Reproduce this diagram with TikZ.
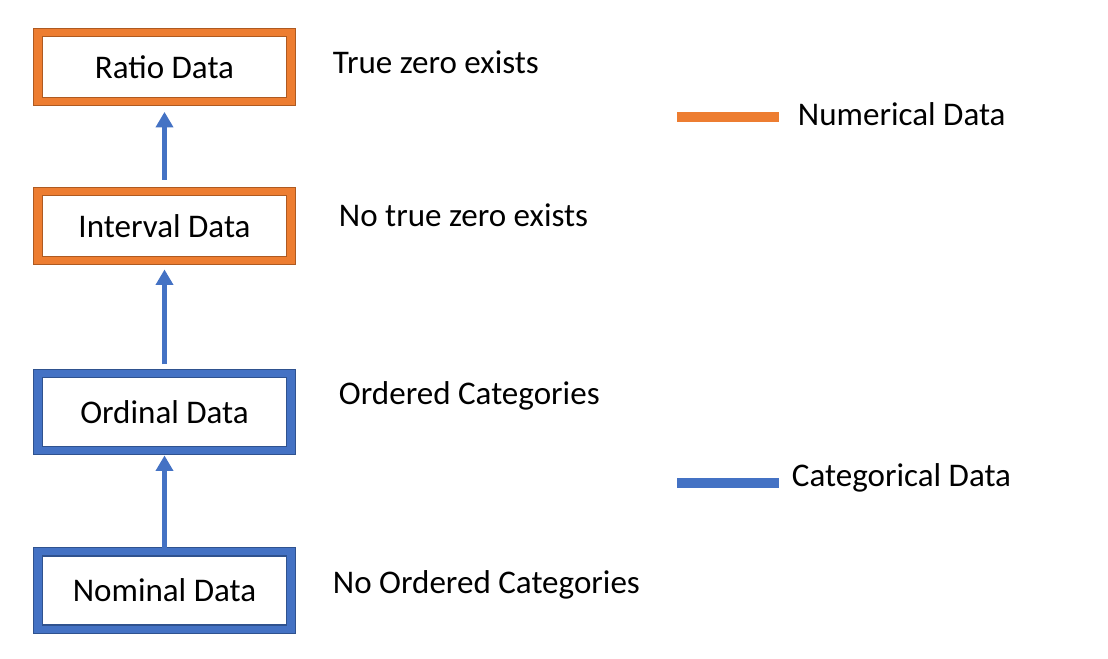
\documentclass[tikz,border=0pt]{standalone}
\usepackage{fontspec}
\setmainfont{Carlito}
\usetikzlibrary{arrows.meta,positioning}
\definecolor{numorange}{HTML}{ED7D31}
\definecolor{numedge}{HTML}{AE5A21}
\definecolor{catblue}{HTML}{4472C4}
\definecolor{catedge}{HTML}{2F528F}
\tikzset{
  numbox/.style={draw=numedge, line width=0.8pt, double=numorange, double distance=5.2pt, fill=white,
    minimum width=180pt, minimum height=49pt, font=\fontsize{23.5}{27}\selectfont},
  catbox/.style={numbox, draw=catedge, double=catblue, minimum height=55pt},
  note/.style={anchor=west, font=\fontsize{23.5}{27}\selectfont},
  uparrow/.style={catblue, line width=3.6pt, -{Triangle[length=11pt,width=12pt]}},
}
\begin{document}
\begin{tikzpicture}[x=0.025cm, y=-0.025cm]
\useasboundingbox (0,0) rectangle (1108,658);
\node[numbox] (ratio) at (164.5,67) {Ratio Data};
\node[numbox] (interval) at (164.5,226) {Interval Data};
\node[catbox] (ordinal) at (164.5,412) {Ordinal Data};
\node[catbox] (nominal) at (164.5,590.5) {Nominal Data};
\draw[uparrow, shorten <=8pt, shorten >=7pt] (interval.north) -- (ratio.south);
\draw[uparrow, shorten <=6pt, shorten >=6pt] (ordinal.north) -- (interval.south);
\draw[uparrow, shorten <=0pt, shorten >=3pt] (nominal.north) -- (ordinal.south);
\node[note] (tz) at (328,62) {True zero exists};
\node[note] (ntz) at (334,215) {No true zero exists};
\node[note] (oc) at (334,396) {Ordered Categories};
\node[note] (noc) at (328,585) {No Ordered Categories};
\coordinate (numa) at (677,117);
\coordinate (numb) at (779,117);
\coordinate (cata) at (677,483);
\coordinate (catb) at (779,483);
\draw[numorange, line width=7pt] (numa) -- (numb);
\draw[catblue, line width=7pt] (cata) -- (catb);
\node[note] (numl) at (793,114) {Numerical Data};
\node[note] (catl) at (787,478) {Categorical Data};
\end{tikzpicture}
\end{document}
